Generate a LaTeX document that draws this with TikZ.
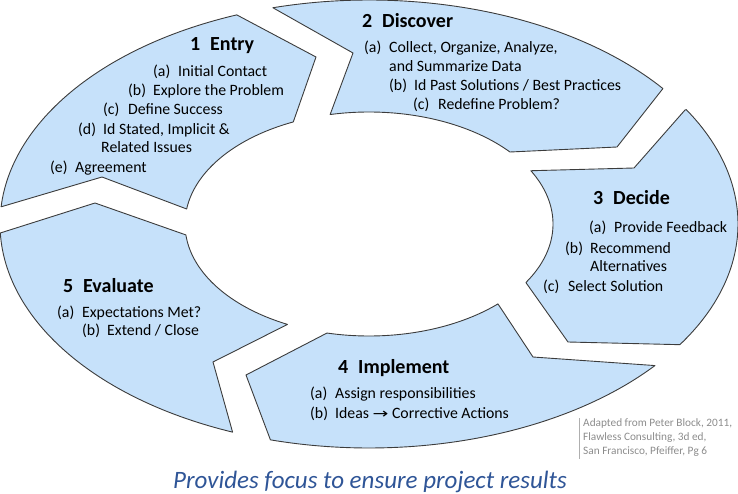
\documentclass[tikz,border=0pt]{standalone}
\usepackage{graphicx}
\usepackage{fontspec}
\setmainfont{Carlito}
\newfontfamily\arrfont{DejaVu Sans}
\definecolor{segfill}{RGB}{198,225,250}
\definecolor{segline}{RGB}{60,60,60}
\definecolor{citegray}{RGB}{140,140,140}
\definecolor{citeline}{RGB}{175,175,175}
\definecolor{captionblue}{RGB}{47,85,151}
\newcommand\itemlab[1]{\makebox[25pt][l]{#1}}
\newcommand\titlenum[1]{\makebox[20pt][l]{#1}}
\tikzset{
  seg/.style={fill=segfill, draw=segline, line width=0.9pt, line join=round},
  ttl/.style={anchor=base west, inner sep=0pt, font=\fontsize{20}{24}\selectfont\bfseries},
  itm/.style={anchor=base west, inner sep=0pt, font=\fontsize{15.8}{19}\selectfont},
  cite/.style={anchor=base west, inner sep=0pt, text=citegray, font=\fontsize{11.3}{13.5}\selectfont},
  caption/.style={anchor=base, inner sep=0pt, text=captionblue, font=\fontsize{25}{30}\selectfont\itshape}
}
\begin{document}
\begin{tikzpicture}[x=1pt,y=-1pt]
\useasboundingbox (0,0) rectangle (738,494);
% 1 Entry
\draw[seg] plot[domain=175.6:111,samples=60] ({369+369*cos(\x)},{224-224*sin(\x)})
  -- (316,57)
  -- plot[domain=114.3:172.3,samples=60] ({369+184*cos(\x)},{224-112*sin(\x)})
  -- (102,177) -- cycle;
% 2 Discover
\draw[seg] plot[domain=105.1:37.2,samples=60] ({369+369*cos(\x)},{224-224*sin(\x)})
  -- (617,147)
  -- plot[domain=40:102.2,samples=60] ({369+184*cos(\x)},{224-112*sin(\x)})
  -- (353,53) -- cycle;
% 3 Decide
\draw[seg] (685,110) -- (634,168)
  -- plot[domain=28.4:-31.5,samples=60] ({369+184*cos(\x)},{224-112*sin(\x)})
  -- (568,342)
  -- plot[domain=-32.6:30.7,samples=60] ({369+369*cos(\x)},{224-224*sin(\x)})
  -- cycle;
% 4 Implement
\draw[seg] (246,375)
  -- plot[domain=-103.2:-45.5,samples=60] ({369+184*cos(\x)},{224-112*sin(\x)})
  -- (533,357)
  -- plot[domain=-39.2:-105.5,samples=60] ({369+369*cos(\x)},{224-224*sin(\x)})
  -- cycle;
% 5 Evaluate
\draw[seg] (95,203)
  -- plot[domain=185.6:243.7,samples=60] ({369+184*cos(\x)},{224-112*sin(\x)})
  -- (213,362)
  -- plot[domain=248.3:182.3,samples=60] ({369+369*cos(\x)},{224-224*sin(\x)})
  -- cycle;
% texts 1
\node[ttl] (t1) at (190,51) {\titlenum{1}Entry};
\node[itm] (t1a) at (153,77) {\itemlab{(a)}Initial Contact};
\node[itm] (t1b) at (128,96) {\itemlab{(b)}Explore the Problem};
\node[itm] (t1c) at (103,115) {\itemlab{(c)}Define Success};
\node[itm] (t1d) at (78,135) {\itemlab{(d)}Id Stated, Implicit \&};
\node[itm] (t1d2) at (101,153) {Related Issues};
\node[itm] (t1e) at (50,173) {\itemlab{(e)}Agreement};
% texts 2
\node[ttl] (t2) at (362,28) {\titlenum{2}Discover};
\node[itm] (t2a) at (364,53) {\itemlab{(a)}Collect, Organize, Analyze,};
\node[itm] (t2a2) at (389,72) {and Summarize Data};
\node[itm] (t2b) at (389,91) {\itemlab{(b)}Id Past Solutions / Best Practices};
\node[itm] (t2c) at (413,110) {\itemlab{(c)}Redefine Problem?};
% texts 3
\node[ttl] (t3) at (593,205) {\titlenum{3}Decide};
\node[itm] (t3a) at (589,233) {\itemlab{(a)}Provide Feedback};
\node[itm] (t3b) at (565,253) {\itemlab{(b)}Recommend};
\node[itm] (t3b2) at (590,271) {Alternatives};
\node[itm] (t3c) at (543,291) {\itemlab{(c)}Select Solution};
% texts 4
\node[ttl] (t4) at (338,373) {\titlenum{4}Implement};
\node[itm] (t4a) at (310,398) {\itemlab{(a)}Assign responsibilities};
\node[itm] (t4b) at (310,418) {\itemlab{(b)}Ideas {\arrfont\fontsize{14}{16}\selectfont\scalebox{1.35}[1]{→}} Corrective Actions};
% texts 5
\node[ttl] (t5) at (63,292) {\titlenum{5}Evaluate};
\node[itm] (t5a) at (57,317) {\itemlab{(a)}Expectations Met?};
\node[itm] (t5b) at (82,335) {\itemlab{(b)}Extend / Close};
% citation
\coordinate (cl1) at (579,418);
\coordinate (cl2) at (579,459);
\draw[citeline, line width=0.8pt] (cl1) -- (cl2);
\node[cite] (c1) at (583,426) {Adapted from Peter Block, 2011,};
\node[cite] (c2) at (583,440) {Flawless Consulting, 3d ed,};
\node[cite] (c3) at (583,454) {San Francisco, Pfeiffer, Pg 6};
% caption
\node[caption] (cap) at (370,488) {Provides focus to ensure project results};
\end{tikzpicture}
\end{document}
